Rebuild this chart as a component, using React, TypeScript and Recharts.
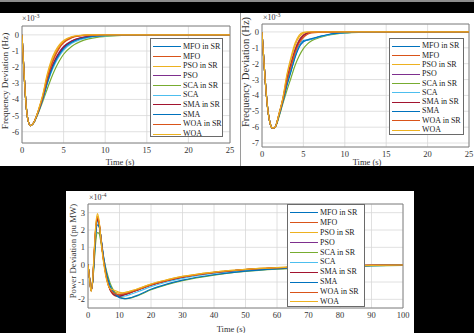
import React from 'react';
import { LineChart, Line, XAxis, YAxis, CartesianGrid, Legend, ReferenceArea } from 'recharts';

const FONT = '"Liberation Serif","Times New Roman",Times,serif';

const NAMES = ['MFO in SR', 'MFO', 'PSO in SR', 'PSO', 'SCA in SR', 'SCA', 'SMA in SR', 'SMA', 'WOA in SR', 'WOA'];
const COLORS = ['#0072BD', '#D95319', '#EDB120', '#7E2F8E', '#77AC30', '#4DBEEE', '#A2142F', '#0072BD', '#D95319', '#EDB120'];

// ---------- Panel A (top-left): frequency deviation, x10^-3 Hz ----------
const T_A = [0, 0.25, 0.5, 0.75, 1, 1.25, 1.5, 1.75, 2, 2.5, 3, 3.5, 4, 4.5, 5, 6, 7, 8, 9, 10, 12, 15, 20, 25];
const A_MFO_SR = [0, -2.4, -4.4, -5.35, -5.62, -5.55, -5.35, -5.05, -4.72, -3.98, -3.0, -2.2, -1.6, -1.15, -0.8, -0.42, -0.22, -0.12, -0.06, -0.03, -0.01, 0, 0, 0];
const A_MFO = [0, -2.4, -4.4, -5.35, -5.62, -5.55, -5.35, -5.03, -4.65, -3.8, -2.7, -1.85, -1.2, -0.75, -0.45, -0.15, -0.05, -0.01, 0, 0, 0, 0, 0, 0];
const A_PSO_SR = [0, -2.4, -4.4, -5.35, -5.62, -5.55, -5.35, -5.02, -4.63, -3.75, -2.6, -1.75, -1.1, -0.68, -0.4, -0.13, -0.04, -0.01, 0, 0, 0, 0, 0, 0];
const A_PSO = [0, -2.4, -4.4, -5.35, -5.62, -5.55, -5.35, -5.04, -4.7, -3.92, -2.9, -2.1, -1.5, -1.05, -0.72, -0.36, -0.18, -0.09, -0.05, -0.02, -0.01, 0, 0, 0];
const A_SCA_SR = [0, -2.4, -4.4, -5.35, -5.62, -5.56, -5.38, -5.1, -4.8, -4.12, -3.4, -2.7, -2.1, -1.6, -1.2, -0.7, -0.42, -0.25, -0.15, -0.1, -0.04, -0.01, 0, 0];
const A_SCA = [0, -2.4, -4.4, -5.35, -5.62, -5.55, -5.36, -5.06, -4.74, -4.0, -3.1, -2.35, -1.75, -1.3, -0.95, -0.52, -0.3, -0.17, -0.1, -0.06, -0.02, 0, 0, 0];
const A_SMA_SR = [0, -2.4, -4.4, -5.35, -5.62, -5.55, -5.35, -5.04, -4.7, -3.93, -2.95, -2.15, -1.55, -1.1, -0.76, -0.38, -0.2, -0.1, -0.05, -0.03, -0.01, 0, 0, 0];
const A_SMA = [0, -2.4, -4.4, -5.35, -5.62, -5.55, -5.36, -5.05, -4.72, -3.97, -3.05, -2.25, -1.65, -1.2, -0.85, -0.45, -0.24, -0.13, -0.07, -0.04, -0.01, 0, 0, 0];
const A_WOA_SR = [0, -2.4, -4.4, -5.35, -5.62, -5.55, -5.35, -5.03, -4.67, -3.85, -2.8, -1.95, -1.3, -0.82, -0.5, -0.18, -0.06, -0.02, -0.01, 0, 0, 0, 0, 0];
const A_WOA = [0, -2.4, -4.4, -5.35, -5.62, -5.55, -5.34, -5.0, -4.6, -3.7, -2.5, -1.6, -1.0, -0.6, -0.35, -0.1, -0.03, 0, 0, 0, 0, 0, 0, 0];
const X_TICKS_A = [0, 5, 10, 15, 20, 25];
const Y_TICKS_A = [-6, -5, -4, -3, -2, -1, 0];

// ---------- Panel B (top-right): frequency deviation, x10^-3 Hz ----------
const T_B = [0, 0.25, 0.5, 0.75, 1, 1.25, 1.5, 1.75, 2, 2.5, 3, 3.5, 4, 4.5, 5, 5.5, 6, 7, 8, 9, 10, 12, 15, 20, 25];
const B_MFO_SR = [0, -2.0, -3.8, -5.1, -5.8, -6.05, -6.05, -5.8, -5.35, -4.4, -3.3, -2.4, -1.5, -0.85, -0.55, -0.5, -0.45, -0.3, -0.18, -0.1, -0.05, -0.01, 0, 0, 0];
const B_MFO = [0, -2.0, -3.8, -5.1, -5.8, -6.05, -6.05, -5.8, -5.3, -4.3, -3.0, -2.0, -1.1, -0.5, -0.18, -0.05, -0.01, 0, 0, 0, 0, 0, 0, 0, 0];
const B_PSO_SR = [0, -2.0, -3.8, -5.1, -5.8, -6.05, -6.05, -5.8, -5.28, -4.25, -2.8, -1.75, -0.85, -0.3, -0.08, -0.02, 0, 0, 0, 0, 0, 0, 0, 0, 0];
const B_PSO = [0, -2.0, -3.8, -5.1, -5.8, -6.05, -6.05, -5.8, -5.3, -4.3, -3.0, -2.05, -1.15, -0.55, -0.22, -0.07, -0.02, 0, 0, 0, 0, 0, 0, 0, 0];
const B_SCA_SR = [0, -2.0, -3.8, -5.1, -5.8, -6.05, -6.05, -5.85, -5.45, -4.55, -3.7, -2.9, -2.1, -1.5, -1.05, -0.75, -0.55, -0.35, -0.2, -0.12, -0.06, -0.02, 0, 0, 0];
const B_SCA = [0, -2.0, -3.8, -5.1, -5.8, -6.05, -6.05, -5.8, -5.35, -4.4, -3.3, -2.45, -1.55, -0.9, -0.6, -0.52, -0.46, -0.3, -0.18, -0.1, -0.05, -0.01, 0, 0, 0];
const B_SMA_SR = [0, -2.0, -3.8, -5.1, -5.8, -6.05, -6.05, -5.8, -5.3, -4.3, -3.05, -2.1, -1.2, -0.6, -0.25, -0.08, -0.02, 0, 0, 0, 0, 0, 0, 0, 0];
const B_SMA = [0, -2.0, -3.8, -5.1, -5.8, -6.05, -6.05, -5.8, -5.38, -4.45, -3.4, -2.5, -1.6, -0.95, -0.62, -0.5, -0.42, -0.28, -0.16, -0.09, -0.04, -0.01, 0, 0, 0];
const B_WOA_SR = [0, -2.0, -3.8, -5.1, -5.8, -6.05, -6.05, -5.8, -5.32, -4.35, -3.1, -2.15, -1.3, -0.7, -0.35, -0.15, -0.06, -0.02, 0, 0, 0, 0, 0, 0, 0];
const B_WOA = [0, -2.0, -3.8, -5.1, -5.8, -6.05, -6.05, -5.78, -5.25, -4.2, -2.7, -1.6, -0.7, -0.2, -0.03, 0, 0, 0, 0, 0, 0, 0, 0, 0, 0];
const X_TICKS_B = [0, 5, 10, 15, 20, 25];
const Y_TICKS_B = [-7, -6, -5, -4, -3, -2, -1, 0];

// ---------- Panel C (bottom): power deviation, x10^-4 pu MW ----------
const T_C = [0, 0.5, 1, 1.5, 2, 2.5, 3, 3.5, 4, 4.5, 5, 6, 7, 8, 9, 10, 11, 12, 14, 16, 20, 25, 30, 40, 50, 60, 70, 80, 90, 100];
const C_MFO_SR = [0, -0.8, -1.5, -0.9, 0.6, 2.0, 2.5, 2.3, 1.7, 0.95, 0.3, -0.75, -1.35, -1.6, -1.72, -1.75, -1.72, -1.67, -1.55, -1.43, -1.17, -0.92, -0.72, -0.46, -0.29, -0.19, -0.12, -0.07, -0.04, -0.02];
const C_MFO = [0, -0.8, -1.5, -0.9, 0.7, 2.1, 2.65, 2.4, 1.7, 0.9, 0.2, -0.85, -1.45, -1.72, -1.82, -1.83, -1.78, -1.72, -1.58, -1.45, -1.18, -0.93, -0.72, -0.46, -0.29, -0.19, -0.12, -0.07, -0.04, -0.02];
const C_PSO_SR = [0, -0.85, -1.5, -0.85, 0.8, 2.25, 2.8, 2.5, 1.7, 0.85, 0.15, -0.85, -1.4, -1.55, -1.6, -1.65, -1.64, -1.6, -1.5, -1.38, -1.12, -0.88, -0.68, -0.43, -0.27, -0.17, -0.11, -0.07, -0.04, -0.02];
const C_PSO = [0, -0.8, -1.5, -0.9, 0.65, 2.05, 2.55, 2.35, 1.7, 0.95, 0.25, -0.8, -1.4, -1.65, -1.76, -1.78, -1.75, -1.7, -1.57, -1.44, -1.17, -0.92, -0.72, -0.46, -0.29, -0.19, -0.12, -0.07, -0.04, -0.02];
const C_SCA_SR = [0, -0.75, -1.4, -1.0, 0.2, 1.4, 1.85, 1.8, 1.4, 0.85, 0.35, -0.45, -1.05, -1.45, -1.7, -1.85, -1.93, -1.96, -1.9, -1.78, -1.45, -1.15, -0.92, -0.6, -0.39, -0.26, -0.17, -0.11, -0.07, -0.04];
const C_SCA = [0, -0.8, -1.5, -0.9, 0.55, 1.95, 2.45, 2.3, 1.75, 1.0, 0.35, -0.7, -1.3, -1.6, -1.75, -1.82, -1.83, -1.8, -1.68, -1.55, -1.27, -1.0, -0.79, -0.51, -0.33, -0.21, -0.13, -0.08, -0.05, -0.03];
const C_SMA_SR = [0, -0.8, -1.5, -0.9, 0.7, 2.15, 2.6, 2.35, 1.7, 0.9, 0.2, -0.85, -1.45, -1.7, -1.8, -1.82, -1.77, -1.71, -1.57, -1.44, -1.17, -0.92, -0.72, -0.46, -0.29, -0.19, -0.12, -0.07, -0.04, -0.02];
const C_SMA = [0, -0.8, -1.45, -0.95, 0.4, 1.8, 2.3, 2.2, 1.7, 1.05, 0.4, -0.6, -1.2, -1.55, -1.78, -1.9, -1.95, -1.96, -1.88, -1.75, -1.42, -1.12, -0.89, -0.58, -0.37, -0.24, -0.15, -0.1, -0.06, -0.03];
const C_WOA_SR = [0, -0.8, -1.5, -0.88, 0.75, 2.2, 2.7, 2.45, 1.7, 0.9, 0.2, -0.85, -1.42, -1.62, -1.7, -1.72, -1.7, -1.66, -1.55, -1.43, -1.17, -0.92, -0.71, -0.45, -0.28, -0.18, -0.11, -0.07, -0.04, -0.02];
const C_WOA = [0, -0.85, -1.55, -0.8, 0.9, 2.35, 2.95, 2.55, 1.65, 0.75, 0.05, -0.95, -1.38, -1.45, -1.52, -1.6, -1.62, -1.6, -1.5, -1.38, -1.12, -0.88, -0.68, -0.43, -0.27, -0.17, -0.11, -0.07, -0.04, -0.02];
const X_TICKS_C = [0, 10, 20, 30, 40, 50, 60, 70, 80, 90, 100];
const Y_TICKS_C = [-2, -1, 0, 1, 2, 3];

function buildRows(t: number[], series: number[][]) {
  return t.map((tv, i) => {
    const row: any = { t: tv };
    series.forEach((s, k) => {
      row['s' + k] = s[i];
    });
    return row;
  });
}

const ROWS_A = buildRows(T_A, [A_MFO_SR, A_MFO, A_PSO_SR, A_PSO, A_SCA_SR, A_SCA, A_SMA_SR, A_SMA, A_WOA_SR, A_WOA]);
const ROWS_B = buildRows(T_B, [B_MFO_SR, B_MFO, B_PSO_SR, B_PSO, B_SCA_SR, B_SCA, B_SMA_SR, B_SMA, B_WOA_SR, B_WOA]);
const ROWS_C = buildRows(T_C, [C_MFO_SR, C_MFO, C_PSO_SR, C_PSO, C_SCA_SR, C_SCA, C_SMA_SR, C_SMA, C_WOA_SR, C_WOA]);

type LegendCfg = { left: number; top: number; w: number; h: number; rowH: number; padTop: number; lineLen: number };

const LegendContent = (props: any) => {
  const { payload, cfg } = props;
  const c: LegendCfg = cfg;
  const items = [...(payload || [])].sort(
    (a: any, b: any) => NAMES.indexOf(String(a.value)) - NAMES.indexOf(String(b.value)),
  );
  return (
    <div
      style={{
        width: c.w,
        height: c.h,
        boxSizing: 'border-box',
        border: '1px solid #6a6a6a',
        background: '#fff',
        paddingTop: c.padTop,
        paddingLeft: 2,
        fontFamily: FONT,
        fontSize: 8,
        color: '#222',
      }}
    >
      {items.map((p: any, i: number) => (
        <div key={i} style={{ display: 'flex', alignItems: 'center', height: c.rowH, whiteSpace: 'nowrap' }}>
          <div style={{ width: c.lineLen, height: 0, borderTop: `1.3px solid ${p.color}`, marginRight: 2, flexShrink: 0 }} />
          <span style={{ lineHeight: 1 }}>{p.value}</span>
        </div>
      ))}
    </div>
  );
};

type PanelProps = {
  left: number;
  top: number;
  width: number;
  height: number;
  margin: { top: number; right: number; bottom: number; left: number };
  rows: any[];
  xDomain: [number, number];
  xTicks: number[];
  yDomain: [number, number];
  yTicks: number[];
  legend: LegendCfg;
};

const tickStyle = { fontSize: 8.5, fill: '#333', fontFamily: FONT };

function Panel(p: PanelProps) {
  return (
    <div style={{ position: 'absolute', left: p.left, top: p.top, width: p.width, height: p.height }}>
      <LineChart width={p.width} height={p.height} data={p.rows} margin={p.margin}>
        <CartesianGrid stroke="#d8d8d8" strokeWidth={0.8} />
        <XAxis
          dataKey="t"
          type="number"
          domain={p.xDomain}
          ticks={p.xTicks}
          allowDataOverflow
          interval={0}
          height={16}
          tickLine={false}
          axisLine={false}
          tickSize={3}
          tickMargin={1}
          tick={tickStyle}
        />
        <YAxis
          type="number"
          domain={p.yDomain}
          ticks={p.yTicks}
          allowDataOverflow
          interval={0}
          width={18}
          tickLine={false}
          axisLine={false}
          tickSize={2}
          tickMargin={1}
          tick={tickStyle}
        />
        {NAMES.map((n, k) => (
          <Line
            key={k}
            type="monotone"
            dataKey={'s' + k}
            name={n}
            stroke={COLORS[k]}
            strokeWidth={1.2}
            dot={false}
            activeDot={false}
            isAnimationActive={false}
          />
        ))}
        <ReferenceArea
          x1={p.xDomain[0]}
          x2={p.xDomain[1]}
          y1={p.yDomain[0]}
          y2={p.yDomain[1]}
          fill="none"
          fillOpacity={0}
          stroke="#7a7a7a"
          strokeWidth={0.9}
        />
        <Legend
          layout="vertical"
          align="center"
          verticalAlign="middle"
          wrapperStyle={{ left: p.legend.left, top: p.legend.top, width: p.legend.w, height: p.legend.h }}
          content={(lp: any) => <LegendContent {...lp} cfg={p.legend} />}
        />
      </LineChart>
    </div>
  );
}

const txt: React.CSSProperties = { position: 'absolute', fontFamily: FONT, color: '#333', whiteSpace: 'nowrap', lineHeight: 1 };

function Rot({ cx, cy, size, children }: { cx: number; cy: number; size: number; children: React.ReactNode }) {
  return (
    <div
      style={{
        ...txt,
        left: cx,
        top: cy,
        fontSize: size,
        transform: 'translate(-50%, -50%) rotate(-90deg)',
      }}
    >
      {children}
    </div>
  );
}

function Center({ cx, cy, size, children }: { cx: number; cy: number; size: number; children: React.ReactNode }) {
  return (
    <div style={{ ...txt, left: cx, top: cy, fontSize: size, transform: 'translate(-50%, -50%)' }}>{children}</div>
  );
}

function Exp({ left, top, exp }: { left: number; top: number; exp: string }) {
  return (
    <div style={{ ...txt, left, top, fontSize: 8 }}>
      ×10<sup style={{ fontSize: 6, verticalAlign: 'top', position: 'relative', top: -2 }}>{exp}</sup>
    </div>
  );
}

export default function App() {
  return (
    <div style={{ position: 'absolute', left: 0, top: 0, width: 474, height: 333, background: '#000', overflow: 'hidden' }}>
      <div style={{ position: 'absolute', left: 0, top: 0, width: 474, height: 2, background: '#8c8c8c' }} />
      <div style={{ position: 'absolute', left: 0, top: 13, width: 240, height: 153, background: '#fff' }} />
      <div style={{ position: 'absolute', left: 240, top: 13, width: 1, height: 153, background: '#9a9a9a' }} />
      <div style={{ position: 'absolute', left: 241, top: 13, width: 233, height: 153, background: '#fff' }} />
      <div style={{ position: 'absolute', left: 66, top: 191, width: 348, height: 142, background: '#fff' }} />

      <Panel
        left={0}
        top={13}
        width={238}
        height={153}
        margin={{ top: 13, right: 8, bottom: 7, left: 4 }}
        rows={ROWS_A}
        xDomain={[0, 25]}
        xTicks={X_TICKS_A}
        yDomain={[-6.7, 0.55]}
        yTicks={Y_TICKS_A}
        legend={{ left: 150, top: 25, w: 73, h: 99, rowH: 9.7, padTop: 3, lineLen: 28 }}
      />
      <Panel
        left={241}
        top={13}
        width={233}
        height={153}
        margin={{ top: 11, right: 5, bottom: 3, left: 3 }}
        rows={ROWS_B}
        xDomain={[0, 25]}
        xTicks={X_TICKS_B}
        yDomain={[-7.25, 0.5]}
        yTicks={Y_TICKS_B}
        legend={{ left: 148, top: 25, w: 75, h: 97, rowH: 9.3, padTop: 2.7, lineLen: 28 }}
      />
      <Panel
        left={66}
        top={191}
        width={348}
        height={142}
        margin={{ top: 13, right: 11, bottom: 9, left: 4 }}
        rows={ROWS_C}
        xDomain={[0, 100]}
        xTicks={X_TICKS_C}
        yDomain={[-2.5, 3.5]}
        yTicks={Y_TICKS_C}
        legend={{ left: 221, top: 13, w: 78, h: 103, rowH: 9.9, padTop: 3, lineLen: 28 }}
      />

      <Exp left={22} top={15} exp="-3" />
      <Exp left={263} top={14} exp="-3" />
      <Exp left={89} top={194} exp="-4" />

      <Rot cx={6} cy={81} size={9.2}>Frequency Deviation (Hz)</Rot>
      <Rot cx={246} cy={72} size={10.5}>Frequency Deviation (Hz)</Rot>
      <Rot cx={73} cy={251} size={8.8}>Power Deviation (pu MW)</Rot>

      <Center cx={120} cy={162} size={8.5}>Time (s)</Center>
      <Center cx={367} cy={162} size={8.5}>Time (s)</Center>
      <Center cx={231} cy={329} size={8.5}>Time (s)</Center>
    </div>
  );
}
